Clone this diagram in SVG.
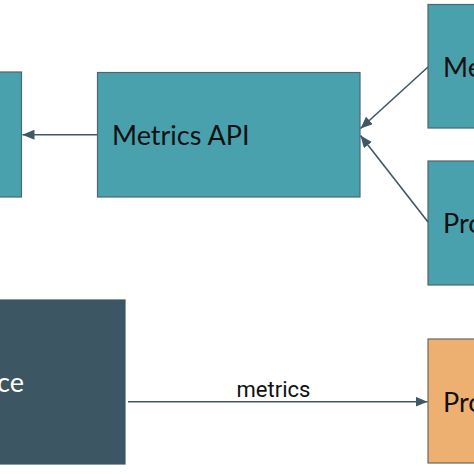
<svg xmlns="http://www.w3.org/2000/svg" width="474" height="474" viewBox="0 0 474 474">
<defs>
<style>
.teal{fill:#4aa1ae;stroke:#4f6670;stroke-width:1.2}
.dark{fill:#3c5664;stroke:#3c5664;stroke-width:1.2}
.orange{fill:#eeb070;stroke:#6b6660;stroke-width:1.2}
.lbl{font-family:Lato,"Open Sans",sans-serif;font-size:27px;fill:#111}
.lblw{font-family:Lato,"Open Sans",sans-serif;font-size:27px;fill:#ffffff}
.edge{stroke:#3f5864;stroke-width:1.6;fill:none}
.elbl{font-family:Roboto,"Liberation Sans",sans-serif;font-size:22px;fill:#111}
</style>
<marker id="ah" viewBox="0 0 12 10" refX="12" refY="5" markerWidth="12" markerHeight="10" markerUnits="userSpaceOnUse" orient="auto">
<path d="M0,0 L12,5 L0,10 z" fill="#3f5864"/>
</marker>
</defs>
<rect width="474" height="474" fill="#ffffff"/>
<g id="node-left">
<rect class="teal" x="-2" y="72" width="23.5" height="125"/>
</g>
<g id="node-metrics-api">
<rect class="teal" x="97.5" y="72.5" width="262.5" height="124.5"/>
<text class="lbl" x="112" y="145">Metrics API</text>
</g>
<g id="node-top-right">
<rect class="teal" x="428" y="4.5" width="50" height="123.5"/>
<text class="lbl" x="443" y="77">Me</text>
</g>
<g id="node-mid-right">
<rect class="teal" x="428" y="161" width="50" height="124"/>
<text class="lbl" x="443" y="233">Pro</text>
</g>
<g id="node-service">
<rect class="dark" x="-2" y="300" width="127" height="164"/>
<text class="lblw" x="24" y="392" text-anchor="end">ce</text>
</g>
<g id="node-bottom-right">
<rect class="orange" x="428" y="339" width="50" height="124"/>
<text class="lbl" x="443" y="412">Pro</text>
</g>
<g id="connectors">
<line class="edge" x1="97" y1="134.7" x2="22.5" y2="134.7" marker-end="url(#ah)"/>
<line class="edge" x1="428" y1="67" x2="360.5" y2="128.5" marker-end="url(#ah)"/>
<line class="edge" x1="428" y1="222" x2="360.5" y2="135.5" marker-end="url(#ah)"/>
<line class="edge" x1="128" y1="401.7" x2="427.5" y2="401.7" marker-end="url(#ah)"/>
<text class="elbl" x="273.5" y="397" text-anchor="middle">metrics</text>
</g>
</svg>
